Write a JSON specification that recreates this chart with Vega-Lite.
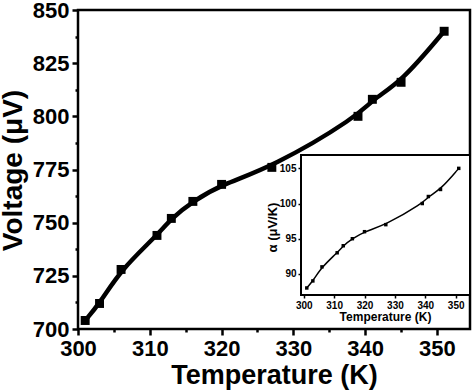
{
  "$schema": "https://vega.github.io/schema/vega-lite/v6.json",
  "width": 392,
  "height": 319,
  "autosize": {"type": "none"},
  "padding": {"left": 78, "top": 10, "right": 4, "bottom": 62},
  "background": "white",
  "config": {
    "view": {"stroke": "black", "strokeWidth": 2.5},
    "font": "Liberation Sans",
    "axis": {"labelFont": "Liberation Sans", "titleFont": "Liberation Sans", "labelColor": "black", "titleColor": "black", "tickColor": "black", "domainColor": "black", "grid": false, "labelFlush": false, "labelOverlap": false}
  },
  "datasets": {
    "main": [
      {"T": 301, "V": 704}, {"T": 303, "V": 712}, {"T": 306, "V": 728}, {"T": 311, "V": 744},
      {"T": 313, "V": 752}, {"T": 316, "V": 760}, {"T": 320, "V": 768}, {"T": 327, "V": 776},
      {"T": 339, "V": 800}, {"T": 341, "V": 808}, {"T": 345, "V": 816}, {"T": 351, "V": 840}
    ],
    "inset": [
      {"T": 301, "alpha": 88}, {"T": 303, "alpha": 89}, {"T": 306, "alpha": 91}, {"T": 311, "alpha": 93},
      {"T": 313, "alpha": 94}, {"T": 316, "alpha": 95}, {"T": 320, "alpha": 96}, {"T": 327, "alpha": 97},
      {"T": 339, "alpha": 100}, {"T": 341, "alpha": 101}, {"T": 345, "alpha": 102}, {"T": 351, "alpha": 105}
    ],
    "frame": [{"t0": 299.1, "t1": 354.7, "a0": 87, "a1": 106.9}]
  },
  "layer": [
    {
      "data": {"name": "main"},
      "encoding": {
        "x": {
          "field": "T", "type": "quantitative",
          "scale": {"domain": [300, 354.6], "nice": false, "zero": false},
          "axis": {
            "values": [300, 305, 310, 315, 320, 325, 330, 335, 340, 345, 350],
            "labelExpr": "datum.value % 10 === 0 ? datum.label : ''",
            "tickSize": {"condition": {"test": "datum.value % 10 === 0", "value": 6}, "value": 3},
            "tickWidth": 2.5,
            "domain": false,
            "labelFontSize": 22, "labelFontWeight": "bold", "labelPadding": 3,
            "title": "Temperature (K)", "titleFontSize": 27, "titleFontWeight": "bold",
            "titleX": 196, "titleY": 54, "titleBaseline": "alphabetic"
          }
        },
        "y": {
          "field": "V", "type": "quantitative",
          "scale": {"domain": [700, 850], "nice": false, "zero": false},
          "axis": {
            "values": [700, 712.5, 725, 737.5, 750, 762.5, 775, 787.5, 800, 812.5, 825, 837.5, 850],
            "labelExpr": "datum.value % 25 === 0 ? datum.label : ''",
            "tickSize": {"condition": {"test": "datum.value % 25 === 0", "value": 6}, "value": 3},
            "tickWidth": 2.5,
            "domain": false,
            "labelFontSize": 22, "labelFontWeight": "bold", "labelPadding": 3,
            "title": "Voltage (μV)", "titleFontSize": 28, "titleFontWeight": "bold",
            "titleX": -57, "titleY": 160, "titleBaseline": "alphabetic", "titleAngle": -90
          }
        }
      },
      "layer": [
        {"mark": {"type": "line", "interpolate": "basis", "color": "black", "strokeWidth": 4.5}},
        {"mark": {"type": "point", "shape": "square", "filled": true, "color": "black", "size": 80, "opacity": 1}}
      ]
    },
    {
      "layer": [
        {
          "data": {"name": "frame"},
          "mark": {"type": "rect", "fill": "white", "stroke": "black", "strokeWidth": 2},
          "encoding": {
            "x": {"field": "t0", "type": "quantitative"},
            "x2": {"field": "t1"},
            "y": {"field": "a0", "type": "quantitative"},
            "y2": {"field": "a1"}
          }
        },
        {
          "data": {"name": "inset"},
          "encoding": {
            "x": {"field": "T", "type": "quantitative"},
            "y": {"field": "alpha", "type": "quantitative"}
          },
          "layer": [
            {"mark": {"type": "line", "interpolate": "basis", "color": "black", "strokeWidth": 1.5}},
            {"mark": {"type": "point", "shape": "square", "filled": true, "color": "black", "size": 12, "opacity": 1}}
          ]
        }
      ],
      "encoding": {
        "x": {
          "type": "quantitative",
          "scale": {"domain": [299.1, 354.7], "range": [223, 392], "nice": false, "zero": false},
          "axis": {
            "orient": "bottom", "offset": -34, "zindex": 1,
            "values": [300, 310, 320, 330, 340, 350],
            "tickSize": 3, "tickWidth": 1.5, "domain": false,
            "labelFontSize": 10, "labelFontWeight": "bold", "labelPadding": 2,
            "title": "Temperature (K)", "titleFontSize": 12, "titleFontWeight": "bold",
            "titleX": 307, "titleY": 25, "titleBaseline": "alphabetic"
          }
        },
        "y": {
          "type": "quantitative",
          "scale": {"domain": [87, 106.9], "range": [285, 145], "nice": false, "zero": false},
          "axis": {
            "orient": "left", "offset": -223, "zindex": 1,
            "values": [90, 95, 100, 105],
            "tickSize": 3, "tickWidth": 1.5, "domain": false,
            "labelFontSize": 10, "labelFontWeight": "bold", "labelPadding": 2,
            "title": "α (μV/K)", "titleFontSize": 13, "titleFontWeight": "bold",
            "titleX": -25, "titleY": 217, "titleBaseline": "alphabetic", "titleAngle": -90
          }
        }
      }
    }
  ],
  "resolve": {"scale": {"x": "independent", "y": "independent"}}
}
